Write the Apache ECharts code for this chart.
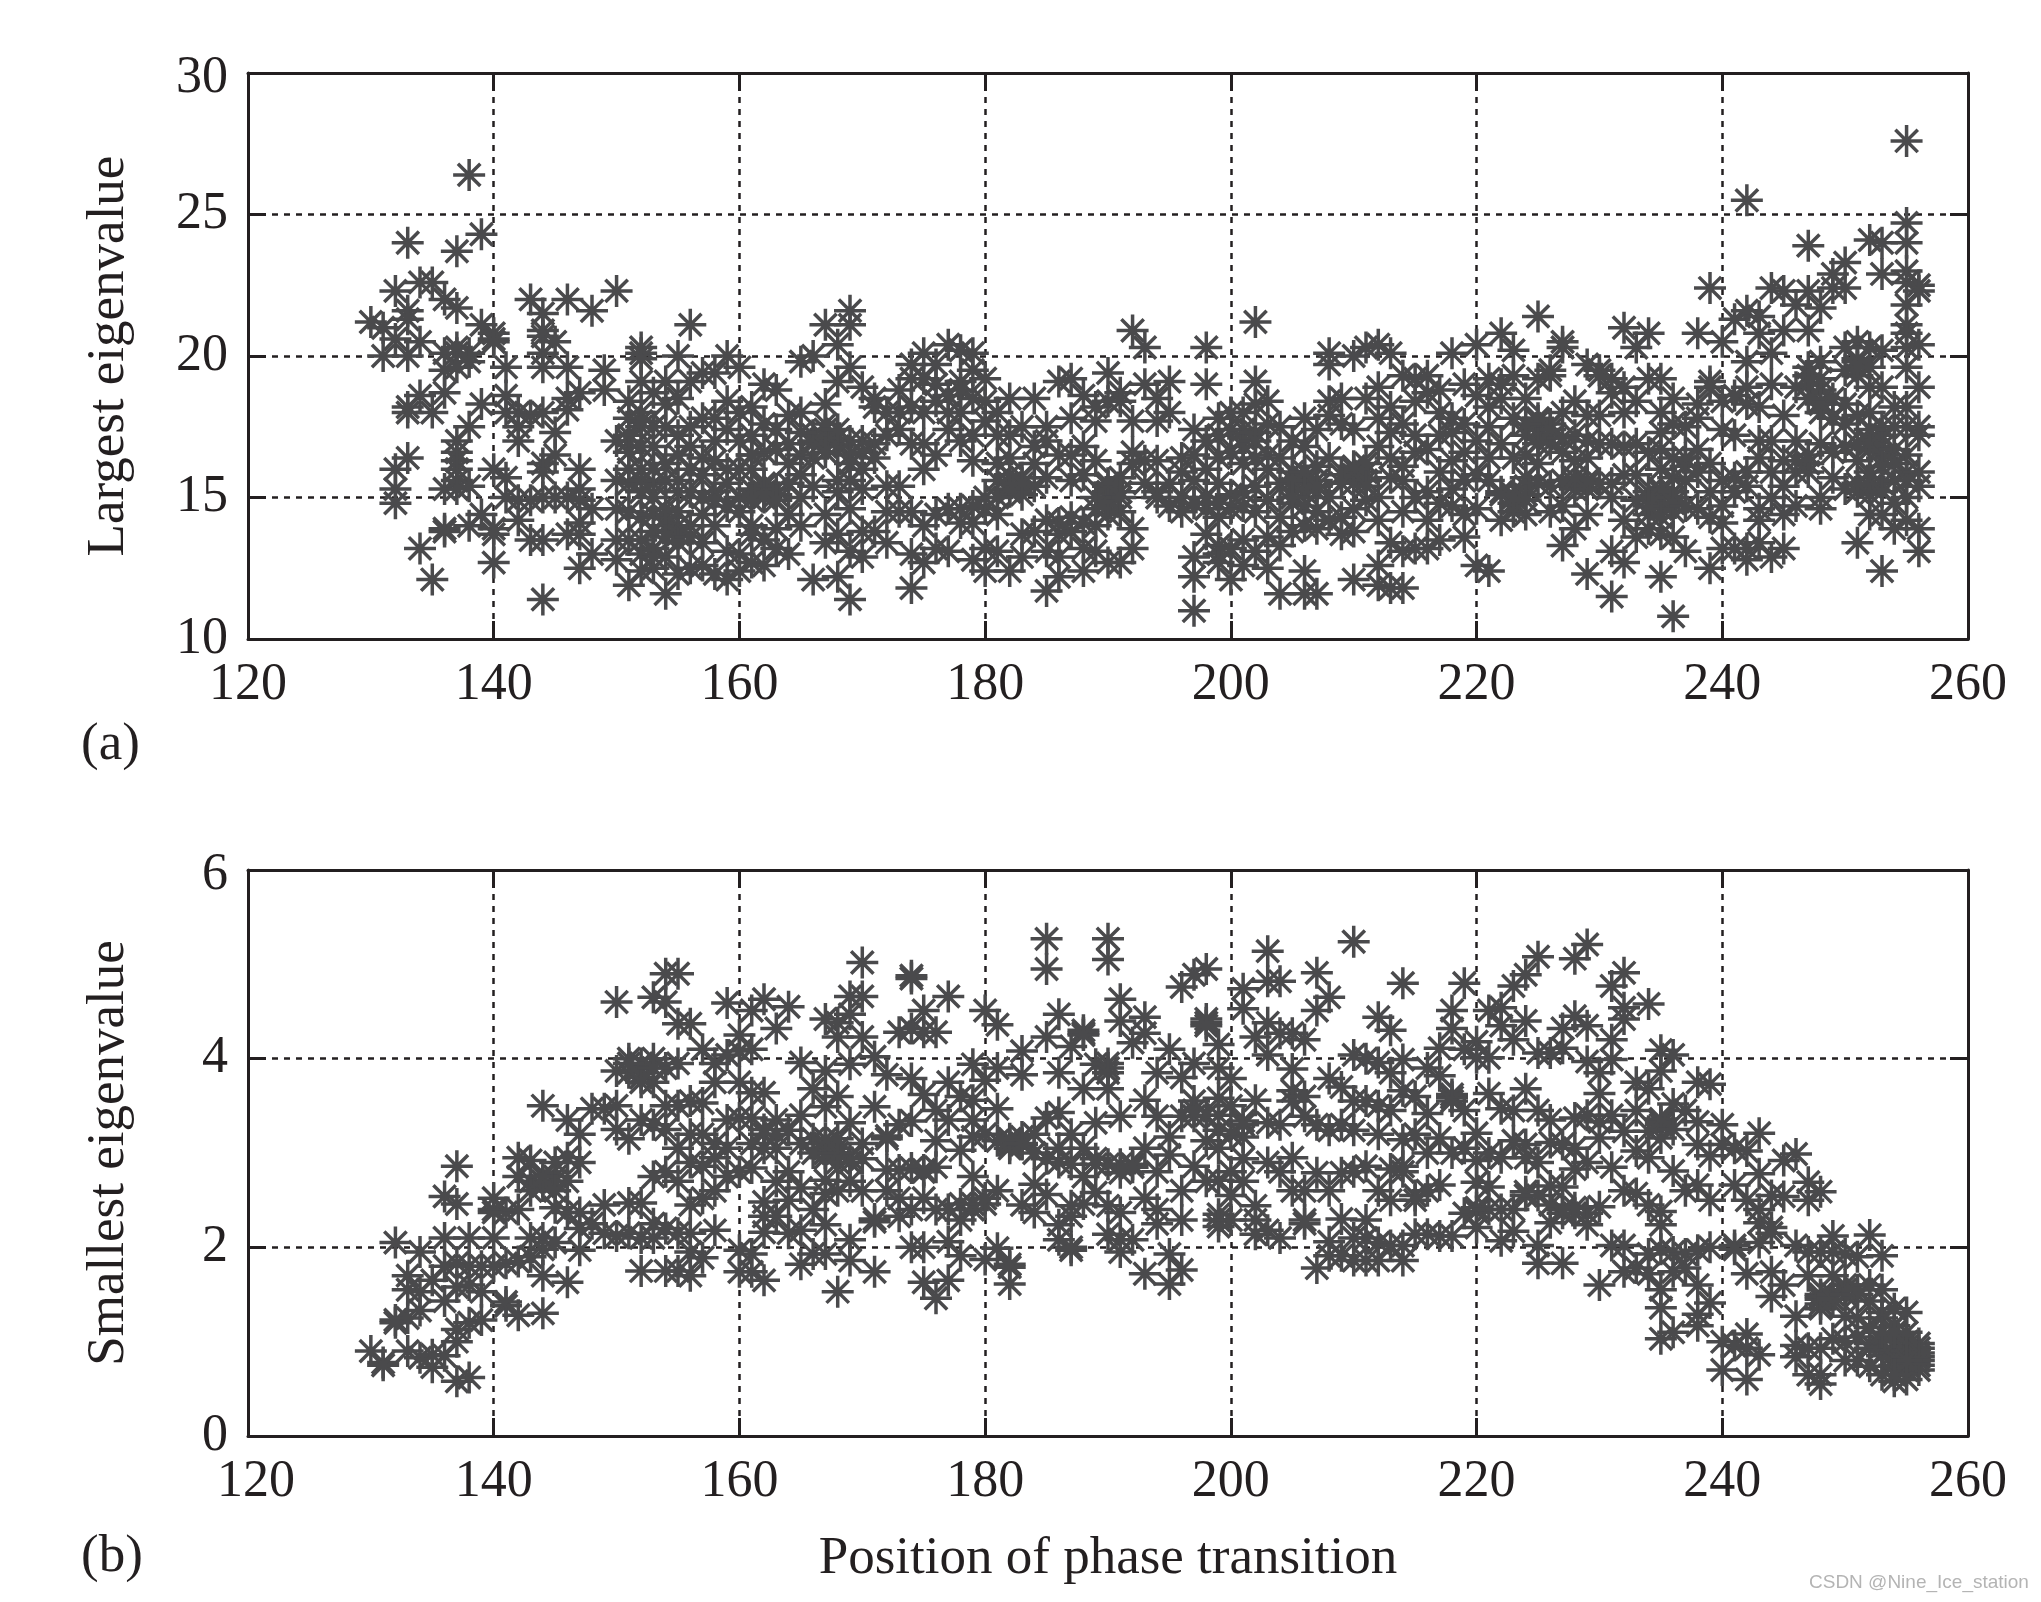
<!DOCTYPE html>
<html><head><meta charset="utf-8">
<style>html,body{margin:0;padding:0;background:#fff}#c{width:2041px;height:1602px}</style>
<script src="https://cdn.jsdelivr.net/npm/echarts@6/dist/echarts.min.js"></script></head>
<body><div id="c"></div><script>
const largestA=[[130,21.2],[131,21],[131,20],[132,22.3],[132,20.6],[133,24],[133,21.6],[133,21.3],[133,20],[134,22.6],[135,22.6],[134,20.5],[136,22],[137,21.7],[137,23.7],[139,24.3],[138,26.4],[139,21.1],[140,20.6],[140,20.8],[140,20.5],[136,20.1],[137,20.1],[138,20.1],[137,20.3],[136,19.5],[137,19.6],[138,19.8],[134,18.6],[133,18],[133,18.2],[135,18],[136,18.7],[132,16],[133,16.4],[132,15.3],[132,14.8],[136,15.3],[137,16.6],[137,16.3],[137,16],[137,15.6],[137,15.3],[138,15.4],[134,13.2],[135,12.1],[136,13.9],[136,13.8],[138,14],[139,14.4],[140,13.9],[140,13.7],[140,12.7],[138,17.5],[137,17],[139,18.3],[140,16],[141,19.6],[141,18.6],[141,18],[142,18],[142,17.5],[142,17],[143,17.9],[144,18],[145,17.3],[143,22],[144,21.5],[144,20.7],[144,20.9],[145,20.5],[144,20.1],[144,19.6],[146,19.6],[146,22],[148,21.6],[150,22.3],[147,18.7],[146,18.1],[146,18.5],[149,19.5],[149,18.8],[144,16.2],[145,16.5],[144,15.9],[147,16],[147,15.3],[141,15.7],[141,15],[142,14.9],[143,14.9],[144,15],[145,15],[146,15],[147,14.9],[148,14.6],[142,14.2],[143,13.5],[144,13.5],[146,13.7],[147,13.7],[147,14.1],[148,13],[147,12.5],[144,11.4],[150,15.6],[150,17],[151,17.8],[151,17],[151,16],[151,15.5],[151,14.5],[151,13.5],[151,11.9],[152,20.3],[152,20.1],[152,19.9],[152,19.1],[153,18.7],[154,18.3],[155,20],[154,19.1],[156,19.1],[156,21.1],[154,17.5],[153,16.8],[153,15.5],[152,14.3],[152,13],[153,12.5],[154,11.6],[154,12.9],[156,12.5],[154,14],[155,14],[154,14.3],[155,13.7],[155,14.5],[156,14],[156,15.2],[157,15],[157,17.8],[157,19.4],[158,19.4],[159,20],[158,17.8],[158,17],[157,16.4],[158,15.2],[159,14.7],[157,13.4],[158,14],[159,12.1],[159,13.1],[152,18],[152,17.5],[152,16.8],[152,16],[152,15.2],[153,14.4],[153,13.8],[155,15.2],[155,16.5],[155,17.2],[155,18.5],[156,16],[156,17.5],[157,12.6],[158,12.3],[153,17.5],[154,15.6],[154,16.2],[151,18.4],[152,12.4],[153,13.2],[155,12.3],[150,13.5],[150,12.8],[150,14.6]];
const largestB=[[160,19.6],[160,18],[160,17],[160,16],[160,15],[160,14.5],[160,13],[161,16.5],[161,16],[161,14],[161,13.7],[161,17.2],[161,18.2],[161,12.7],[162,19],[162,17.6],[162,16.6],[162,15.5],[162,15.2],[162,15],[162,12.6],[162,13.5],[163,18.8],[163,16.7],[163,15.1],[163,13.9],[163,13.2],[164,13],[164,16.2],[164,15.5],[164,17.9],[165,18],[165,19.8],[165,15.8],[165,16.5],[165,14],[165,15],[166,20],[166,17],[166,16.4],[166,12.1],[166,15.4],[167,21.1],[167,18.3],[167,17.4],[167,17.1],[167,16.8],[167,14.4],[167,13.4],[168,20.4],[168,19.1],[168,17.1],[168,16.8],[168,15.6],[168,15.2],[168,12.2],[168,13.7],[169,21.6],[169,21.1],[169,19.6],[169,17],[169,16.5],[169,16.2],[169,15.6],[169,14.6],[169,13.1],[169,11.4],[170,18.9],[170,17],[170,16.6],[170,12.9],[170,15.3],[170,13.8],[171,18.5],[171,16.9],[171,13.8],[171,18.2],[172,17.2],[172,15.4],[172,14.5],[172,13.4],[173,18.8],[173,15.4],[173,14.5],[173,18],[174,19.7],[174,19.2],[174,14.5],[174,13],[174,11.8],[174,16.9],[174,18.2],[175,20.1],[175,16],[175,16.9],[175,18],[175,19.2],[175,12.7],[175,14],[176,19],[176,18.4],[176,14.4],[176,13.2],[176,19.7],[177,20.4],[177,18.6],[177,17.4],[177,14.6],[177,13.1],[178,19.1],[178,18],[178,20.2],[178,17],[178,14.6],[178,14.1],[179,20.1],[179,18.5],[179,16.3],[179,14.1],[179,14.7],[179,12.8],[179,17.2],[180,19.2],[180,17.7],[180,14.6],[180,13.2],[180,15],[180,18.4],[180,12.4]];
const largestC=[[181,14.4],[181,15.6],[181,16.2],[181,18],[181,13.1],[182,18.5],[182,15.5],[182,15.8],[182,15.2],[182,12.4],[182,17.2],[182,16.4],[183,12.9],[183,15.7],[183,15.1],[183,13.7],[184,18.5],[184,16.2],[184,16.8],[184,13.8],[184,15.4],[185,17.5],[185,11.7],[185,14.2],[185,13.1],[185,17],[186,19.1],[186,16.5],[186,14.1],[186,12.9],[186,12.2],[186,13.7],[187,19.2],[187,17.8],[187,16.5],[187,15.6],[187,13.8],[187,14.3],[188,18.6],[188,16.8],[188,13.2],[188,12.4],[188,14.1],[189,17.7],[189,18.2],[189,14],[189,13.1],[190,19.4],[190,15.4],[190,15],[190,14.7],[190,15.2],[190,12.7],[190,14.4],[190,18.4],[191,18.7],[191,15.7],[191,15.2],[191,12.7],[191,14.5],[191,18.4],[192,20.9],[192,17.7],[192,16.6],[192,16.2],[192,13.9],[192,13.2],[193,20.3],[193,19],[193,16.3],[193,15.5],[194,18.5],[194,17.7],[194,16.3],[194,15.2],[195,19.1],[195,18],[195,15.5],[195,14.7],[196,16.4],[196,15],[196,14.5],[197,17.4],[197,16.5],[197,15.6],[197,14.8],[197,12.9],[197,12.2],[197,11],[198,20.3],[198,19],[198,17],[198,16],[198,14.6],[198,13.7],[199,13],[199,13.3],[199,12.7],[199,17.2],[199,16.4],[199,15.5],[199,14.3],[199,17.8],[200,18],[200,16.6],[200,15.1],[200,14.6],[200,12.1],[200,13.2],[200,17.4],[201,17.1],[201,17.4],[201,16.8],[201,16.2],[201,15.2],[201,14.7],[201,12.6],[201,13.5],[202,21.2],[202,19.1],[202,18.3],[202,17.3],[202,17],[202,15.4],[202,14.5],[202,13.1],[203,18.4],[203,16.5],[203,14.9],[203,13.6],[203,12.5],[203,17.6],[204,11.6],[204,15.5],[204,14.3],[204,13.3],[205,15.9],[205,15.3],[205,14.8],[205,13.8],[205,17],[206,17.8],[206,16.8],[206,15.7],[206,15.5],[206,15.2],[206,14.7],[206,12.4],[206,11.6],[207,17.4],[207,15.6],[207,15.2],[207,11.6],[207,13.9],[207,16.1],[208,20.1],[208,19.7],[208,18.4],[208,17.9],[208,15],[208,14.2],[209,17.6],[209,14.3],[209,13.7],[209,15.8],[210,20],[210,17.4],[210,15.8],[210,16.1],[210,15.5],[210,14.6],[210,12.1],[210,13.8],[211,20.3],[211,18.5],[211,15.9],[211,15.6],[211,16.2],[211,14.9],[212,20.4],[212,18.9],[212,17.8],[212,16.8],[212,15],[212,14.2],[212,12.6],[212,11.9]];
const largestD=[[213,20.1],[213,18.2],[213,17.3],[213,15.7],[213,11.8],[213,13.4],[214,19.3],[214,17.6],[214,14.5],[214,11.8],[214,13.1],[214,16.1],[215,13.2],[215,18.4],[215,16.6],[215,15],[216,19.3],[216,18.7],[216,16.7],[216,15.2],[216,13.2],[216,14.2],[217,18],[217,15.9],[217,13.5],[217,14.8],[218,20.1],[218,17.8],[218,17.3],[218,16.3],[218,14.7],[218,15.3],[219,19],[219,16.6],[219,13.6],[219,17.6],[219,14.4],[220,20.4],[220,18.6],[220,17],[220,14.6],[220,12.6],[220,15.8],[221,19.2],[221,15.6],[221,12.4],[221,17.5],[222,20.8],[222,18.5],[222,16.9],[222,14.2],[222,15.2],[223,20.2],[223,19.3],[223,14.8],[223,15.1],[223,14.5],[223,17.8],[223,16.4],[224,18.5],[224,15.4],[224,15.7],[224,15.1],[224,14.4],[224,16.5],[225,21.4],[225,17.7],[225,17.4],[225,17.2],[225,19.2],[225,15.5],[225,16.2],[226,19.3],[226,19.5],[226,17.6],[226,16.9],[226,17.1],[226,14.5],[226,15.4],[227,20.3],[227,20.5],[227,16.6],[227,15.6],[227,14.7],[227,13.3],[227,18],[228,18.4],[228,15.5],[228,15.3],[228,13.9],[228,17.2],[228,16.3],[229,19.7],[229,17.9],[229,17],[229,15.5],[229,15.3],[229,14.4],[229,12.3],[229,16.4],[230,19.5],[230,19.3],[230,16.9],[231,19.2],[231,16.9],[231,13.1],[231,11.5],[231,18.7],[232,21],[232,18.9],[232,18],[232,16.8],[232,14.2],[232,12.7],[233,20.3],[233,16.9],[233,14.9],[233,13.6],[233,15.8],[234,20.8],[234,19.2],[234,16.6],[234,15.2],[234,14.4],[234,13.9],[235,19.2],[235,18],[235,17.3],[235,16.7],[235,15.2],[235,15],[235,14.8],[235,14.6],[235,13.7],[235,12.2],[235,16],[236,18.5],[236,17.6],[236,15.7],[236,15],[236,14.5],[236,10.8],[236,16.4],[237,16.4],[237,16.1],[237,15.6],[237,13.1],[237,17.5],[238,20.8],[238,18.3],[238,17.8],[238,15.9],[238,14.6],[238,16.7],[239,22.4],[239,19.1],[239,18.9],[239,12.5],[239,15.2],[240,20.5],[240,18.4],[240,17.4],[240,14.7],[240,14.1],[240,13.2],[240,15.6]];
const largestE=[[241,21.3],[241,15.7],[241,13.2],[241,15.2],[242,25.5],[242,21.6],[242,19.8],[242,18.9],[242,18.3],[242,15.9],[242,15.4],[242,13.2],[242,12.8],[243,21.4],[243,20.8],[243,17],[243,16.4],[243,14.6],[243,14.2],[243,13.4],[244,22.4],[244,20.1],[244,19],[244,17],[244,15.9],[244,12.9],[245,22.3],[245,20.9],[245,16.3],[245,15.4],[245,14.4],[245,13.2],[246,21.8],[246,18.9],[246,17],[246,14.7],[247,23.9],[247,22.3],[247,20.9],[247,19.6],[247,19.3],[247,16.2],[247,15.9],[247,16.5],[248,21.7],[248,19.8],[248,18.8],[248,18.4],[248,18],[248,16.9],[248,15],[248,14.6],[249,22.9],[249,22.4],[249,17.8],[249,15.7],[249,16.6],[249,18.5],[250,23.3],[250,22.4],[250,20.3],[250,18.3],[250,16.8],[250,17.6],[250,15.3],[251,20.5],[251,19.6],[251,19.3],[251,19.9],[251,17.9],[251,15.2],[251,13.4],[251,16.3],[252,24.1],[252,20.3],[252,18.9],[252,17],[252,16.7],[252,15.4],[252,15.7],[252,15.1],[252,14.4],[252,18],[253,24],[253,22.9],[253,20.2],[253,18.9],[253,17.2],[253,16.8],[253,16.4],[253,15.5],[253,14.4],[253,12.4],[254,18.2],[254,17.5],[254,16.7],[254,16.2],[254,15.6],[254,13.9],[254,14.8],[255,27.6],[255,24.7],[255,24],[255,23],[255,22.6],[255,21.8],[255,21.1],[255,20.8],[255,20.3],[255,19.6],[255,18.2],[255,17.5],[255,16.5],[255,15.9],[255,15.6],[255,14.2],[255,15],[256,22.5],[256,22.3],[256,20.4],[256,18.9],[256,17.5],[256,17.2],[256,15.9],[256,15.4],[256,13.9],[256,13.1]];
const largestDense=[[161,16.5],[162,15.4],[162,15.1],[161,15.3],[163,15.3],[161,14.9],[163,14.9],[166,17.2],[167,17.6],[168,17.4],[166,16.9],[167,16.6],[205,15.6],[206,15.9],[207,15.4],[205,15],[210,16],[211,15.4],[209,15.5],[190,14.9],[190,15.5],[191,15],[189,15],[189,14.6],[182,15.3],[183,15.5],[181,15],[225,17.8],[224,17.2],[226,17.4],[225,16.9],[227,17.1],[224,17.6],[223,15],[222,15.1],[224,14.9],[235,15.3],[234,15],[236,15.2],[234,14.7],[236,14.8],[235,14.3],[252,16.9],[253,17.5],[252,17.4],[251,16.9],[253,16.1],[252,15.9],[251,15.5],[253,15.2],[247,19],[248,19.2],[248,18.3],[247,18.5],[251,19.8],[250,19.5],[252,19.6],[229,15.6],[228,15.7],[230,15.5],[231,15.5],[154,13.6],[155,13.4],[156,13.6],[154,14.6],[153,12.9],[152,13.5],[152,17.7],[151,17.2],[151,16.6],[152,15.6],[153,16],[153,15],[155,15.6],[156,16.8],[157,14.4],[157,15.8],[158,14.9],[158,16.3],[159,16],[159,15.5],[159,17.4],[159,18.4],[160,12.4],[163,17.4],[164,16.9],[164,14.4],[165,17.3],[170,16],[171,16.4],[172,18],[173,17.4],[176,16.5],[177,18],[178,18.8],[179,19.5],[181,17.2],[183,17.5],[185,15.7],[188,15.8],[189,16.3],[194,15],[196,15.9],[198,15],[199,14.8],[201,18],[202,16.4],[203,16],[204,17.5],[204,16.4],[206,14],[207,14.5],[208,16.4],[209,18.5],[213,16.4],[214,15.6],[215,17.2],[215,19.2],[217,17.2],[217,18.8],[219,15.6],[221,16.4],[221,18.2],[222,19],[230,17.9],[231,15],[232,15.8],[233,18.4],[236,13.6],[237,14.7],[239,16.2],[239,14.3],[241,17.2],[241,18.6],[243,18.2],[244,15],[245,17.9],[246,15.9],[246,16.3]];
const smallestA=[[130,0.9],[131,0.78],[131,0.75],[132,2.05],[132,1.23],[132,1.2],[133,1.25],[133,1.7],[133,1.55],[134,1.95],[134,1.53],[134,1.33],[133,0.9],[134,0.83],[135,0.73],[135,0.86],[136,0.85],[137,0.58],[138,0.62],[137,1],[137,1.13],[138,1.2],[139,1.23],[136,1.43],[135,1.65],[136,1.8],[136,2.1],[137,1.83],[137,1.58],[138,1.8],[138,1.6],[139,1.53],[138,2.1],[139,1.8],[140,2.1],[140,1.8],[136,2.54],[137,2.46],[137,2.86],[140,2.52],[140,2.4],[140,2.37],[141,2.37],[141,1.83],[141,1.38],[141,1.42],[142,1.28],[144,1.3],[142,1.85],[143,1.9],[144,1.7],[146,1.63],[144,1.98],[143,2.1],[144,2.1],[145,2.05],[142,2.4],[142,2.95],[142,2.75],[143,2.92],[143,2.7],[144,2.7],[144,2.65],[145,2.75],[144,3.5],[145,2.9],[145,2.7],[146,2.95],[146,3.35],[147,3.2],[147,2.9],[146,2.7],[145,2.42],[146,2.37],[147,2.37],[147,2.2],[147,1.97],[148,3.47],[149,3.47],[150,4.6],[150,3.87],[150,3.25],[151,4],[151,3.15],[151,3.85],[152,3.35],[152,3.85],[152,1.75],[153,4.65],[154,4.6],[154,4.9],[155,4.9],[155,4.37],[156,4.37],[153,4],[154,3.9],[153,3.75],[155,3.5],[154,3.5],[153,3.3],[154,3.25],[155,3.05],[153,2.75],[154,2.8],[149,2.45],[151,2.47],[152,2.47],[151,2.15],[150,2.12],[152,2.1],[154,2.2],[155,2.15],[156,2.15],[155,1.75],[156,1.7],[154,1.75],[153,2.25],[156,2.45],[156,2.9],[148,2.25],[149,2.15],[152,3.95],[156,3.55],[157,4.1],[157,3.53],[157,3.2],[157,2.86],[157,2.52],[157,1.89],[158,2.6],[158,2.18],[158,3.1],[159,4.59],[159,4.04],[159,3.05],[159,2.75],[153,2.1],[155,2.7],[155,3.95],[156,3.2],[156,1.95]];
const smallestB=[[160,4.25],[160,4.08],[160,3.37],[160,1.97],[160,1.74],[160,2.8],[161,4.51],[161,4.1],[161,3.64],[161,3.37],[161,2.84],[161,1.93],[161,1.74],[162,4.63],[162,3.64],[162,3.2],[162,3.05],[162,2.48],[162,2.33],[162,2.16],[162,1.65],[163,4.32],[163,3.35],[163,3.05],[163,2.33],[164,4.55],[164,3.24],[164,2.5],[165,3.96],[165,2.63],[165,2.18],[165,1.82],[165,3.1],[166,3.68],[166,3.15],[166,1.93],[166,2.4],[167,4.42],[167,3.87],[167,3.49],[167,3.1],[167,3.05],[167,3],[167,2.95],[167,2.71],[167,2.57],[167,2.24],[167,1.93],[168,4.38],[168,4.23],[168,3.6],[168,3.05],[168,2.6],[168,1.53],[168,2.9],[169,4.47],[169,4.66],[169,3.94],[169,3.32],[169,2.95],[169,2.9],[169,2.08],[169,1.86],[169,2.7],[170,5.02],[170,4.66],[170,4.23],[170,2.94],[170,2.6],[170,3.1],[171,4.02],[171,3.49],[171,2.27],[171,2.3],[171,1.74],[172,3.83],[172,3.18],[172,3.15],[172,2.82],[173,4.28],[173,2.82],[173,2.52],[173,2.33],[173,3.3],[174,4.85],[174,4.88],[174,4.32],[174,3.79],[174,3.34],[174,2.84],[175,4.51],[175,4.28],[175,3.62],[175,2.82],[175,2.8],[175,2.52],[175,2],[175,1.63],[176,4.28],[176,3.13],[176,2.4],[176,1.46],[177,4.66],[177,3.75],[177,3.35],[177,2.4],[177,2.06],[177,1.65],[178,3.03],[178,2.46],[178,2.29],[178,1.91],[179,3.94],[179,3.56],[179,3.35],[179,3.17],[179,2.75],[179,2.46],[179,2.4],[180,4.51],[180,3.77],[180,2.46],[180,1.87],[180,2.52]];
const smallestC=[[181,4.36],[181,3.9],[181,3.47],[181,2.6],[181,1.99],[182,3.09],[182,3.13],[182,3.05],[182,1.82],[182,1.79],[182,1.61],[183,4.08],[183,3.83],[183,3.17],[183,3.09],[184,3.2],[184,2.67],[184,2.37],[185,5.27],[185,4.95],[185,4.23],[185,3.37],[185,2.94],[185,2.56],[186,4.47],[186,3.43],[186,3.05],[186,2.9],[186,2.24],[186,2.08],[187,4.13],[187,2.88],[187,2.44],[187,2.33],[187,1.97],[187,2],[188,4.27],[188,4.3],[188,4.25],[188,3.68],[188,3.05],[188,2.46],[189,3.94],[189,3.32],[189,2.94],[189,2.58],[189,2.88],[190,5.27],[190,5.05],[190,3.95],[190,3.9],[190,3.85],[190,3.68],[190,2.88],[190,2.44],[190,2.14],[191,4.63],[191,4.4],[191,3.39],[191,2.88],[191,2.79],[191,2.37],[191,2.08],[191,1.95],[192,4.17],[192,2.88],[192,2.85],[192,2.08],[193,4.44],[193,4.27],[193,3.56],[193,2.52],[193,1.72],[194,3.85],[194,3.39],[194,2.4],[194,2.25],[195,4.1],[195,3.17],[195,2.98],[195,1.93],[195,1.61],[196,4.76],[196,3.39],[196,2.6],[196,2.29],[196,1.76],[197,4.89],[197,3.55],[197,3.39],[197,3.45],[197,2.86],[198,4.95],[198,4.38],[198,4.42],[198,4.35],[198,3.13],[198,3.4],[199,4.15],[199,3.9],[199,3.58],[199,3.24],[199,2.71],[199,2.29],[199,2.35],[199,2.22],[200,3.79],[200,3.2],[200,2.29],[200,2.8],[201,4.74],[201,4.53],[201,3.34],[201,3.17],[201,2.94],[201,2.7],[202,4.23],[202,3.56],[202,2.44],[202,2.29],[202,2.14],[203,5.14],[203,4.82],[203,4.38],[203,4.04],[203,3.32],[203,2.9],[203,2.18],[204,4.82],[204,4.27],[204,2.1],[204,3.3],[205,4.27],[205,3.89],[205,3.66],[205,3.55],[205,2.95],[206,3.39],[206,2.6],[206,2.29],[206,2.25],[206,3.6],[207,4.91],[207,4.51],[207,2.79],[207,1.78],[208,4.65],[208,3.79],[208,3.24],[208,2.6],[208,2.06],[208,1.91],[209,3.7],[209,2.79],[209,1.91],[210,5.24],[210,4.04],[210,3.55],[210,3.24],[210,2.1],[210,1.86],[210,2.8],[211,3.55],[211,2.86],[211,2.29],[211,2.1],[211,1.86],[212,4.44],[212,3.96],[212,3.2],[212,2.6],[212,1.86],[212,2.05]];
const smallestD=[[213,4.3],[213,3.85],[213,3.45],[213,2.83],[213,2.02],[214,4.8],[214,3.99],[214,3.66],[214,3.14],[214,2.86],[214,2.8],[214,2.02],[214,1.86],[215,2.55],[215,2.5],[215,2.14],[215,3.2],[216,3.42],[216,2.6],[216,2.14],[216,3.9],[217,4.11],[217,3.82],[217,3.16],[217,2.66],[217,2.12],[218,4.51],[218,4.32],[218,3.59],[218,3.62],[218,3.55],[218,3],[218,2.12],[219,4.8],[219,2.36],[219,3.05],[220,4.18],[220,4.01],[220,3.21],[220,2.92],[220,2.69],[220,2.38],[220,2.42],[220,2.21],[221,4.51],[221,4.01],[221,3.63],[221,2.64],[221,2.4],[222,4.54],[222,4.35],[222,3.47],[222,2.95],[222,2.4],[222,2.07],[223,4.77],[223,4.2],[223,3.13],[223,2.4],[223,2.17],[224,4.89],[224,4.4],[224,3.68],[224,3.09],[224,2.95],[224,2.59],[224,2.55],[225,5.08],[225,4.06],[225,3.45],[225,2.55],[225,2.02],[225,1.83],[226,4.06],[226,3.35],[226,3.11],[226,2.26],[226,2.45],[227,4.32],[227,4.11],[227,3.09],[227,2.64],[227,2.4],[227,2.36],[227,1.83],[228,5.06],[228,4.45],[228,3.37],[228,2.83],[228,2.36],[228,2.42],[229,5.21],[229,4.35],[229,3.97],[229,3.4],[229,2.9],[229,2.36],[229,2.24],[230,3.85],[230,3.63],[230,3.33],[230,3.16],[230,2.43],[230,1.6],[231,4.77],[231,4.2],[231,3.99],[231,2.85],[231,2.02],[232,4.91],[232,4.54],[232,4.42],[232,3.23],[232,2.02],[232,1.74],[233,3.75],[233,3.02],[233,2.57],[233,1.78],[234,4.58],[234,3.68],[234,3.23],[234,2.95],[234,2.45],[234,1.93],[234,1.72],[235,4.09],[235,3.87],[235,3.33],[235,3.3],[235,3.36],[235,3.16],[235,2.38],[235,2.24],[235,1.98],[235,1.55],[235,1.36],[235,1.03],[236,4.04],[236,3.52],[236,2.81],[236,1.95],[236,1.74],[236,1.1],[237,3.45],[237,1.93],[237,1.78],[238,3.75],[238,3.33],[238,3.09],[238,2.66],[238,1.97],[238,1.6],[238,1.29],[238,1.17],[239,3.73],[239,2.97],[239,1.41],[240,3.3],[240,3.09],[240,1],[240,0.7]];
const smallestE=[[241,2.66],[241,2.02],[241,1.98],[241,0.96],[242,3.02],[242,2.5],[242,1.72],[242,1.08],[242,0.93],[242,0.6],[243,3.21],[243,2.78],[243,2.4],[243,2.26],[243,0.86],[244,2.21],[244,2.15],[244,1.74],[244,1.48],[245,2.92],[245,2.54],[246,2.99],[246,2.02],[246,1.27],[246,0.96],[246,0.84],[247,2.69],[247,2.5],[247,1.7],[247,0.93],[247,0.65],[248,2.59],[248,1.95],[248,1.5],[248,1.45],[248,1.4],[248,1.35],[248,1.48],[248,0.93],[248,0.65],[248,0.55],[249,2.12],[249,1.95],[249,1.5],[249,1.03],[249,1.45],[250,1.93],[250,1.55],[250,1.6],[250,1.5],[250,1.27],[250,0.8],[251,1.5],[251,1.55],[251,0.8],[252,2.13],[252,1.43],[252,0.93],[252,0.98],[252,0.74],[253,1.91],[253,1.55],[253,1.31],[253,0.95],[253,1],[253,0.85],[253,0.65],[254,1.17],[254,1],[254,0.95],[254,0.88],[254,0.82],[254,0.75],[254,0.58],[255,1.31],[255,1],[255,0.95],[255,0.9],[255,0.84],[255,0.75],[255,0.7],[255,0.6],[256,0.98],[256,0.93],[256,0.88],[256,0.84],[256,0.75],[256,0.7]];
const smallestDense=[[143,2.6],[144,2.75],[145,2.6],[152,3.8],[151,3.95],[152,3.75],[153,3.9],[150,3.5],[162,3.25],[161,3.1],[163,3.2],[167,3.15],[166,3],[168,3],[168,3.15],[181,3.13],[182,3.15],[183,3.1],[199,3.4],[200,3.5],[199,3.05],[200,2.55],[201,3.3],[205,2.6],[204,2.8],[160,3.75],[158,3.75],[158,3.95],[159,3.35],[158,2.95],[164,2.8],[164,2.15],[163,2.7],[165,3.4],[172,2.6],[174,2.4],[174,2],[176,2.85],[176,3.45],[178,3.6],[180,3.2],[183,2.45],[184,3],[186,3.85],[187,3.2],[188,2.75],[193,3.05],[194,2.8],[196,3.8],[197,3.95],[198,2.7],[206,4.2],[207,3.3],[209,3.3],[209,2.3],[211,4],[212,3.5],[213,2.5],[215,3.6],[216,3],[219,3.45],[219,4.1],[221,3],[223,3.45],[225,2.9],[226,2.65],[228,3.05],[231,3.4],[232,2.6],[233,3.45],[236,3.25],[237,2.6],[239,2.5],[239,2],[241,3.05],[243,2.05],[244,2.55],[245,1.6],[247,1.95],[249,1.7],[251,1.9],[251,1.25],[252,1.6],[253,1.25],[254,1.35],[250,1],[251,1.05],[252,1.15],[253,1.1],[255,1.1],[254,1.1],[256,0.8],[255,0.8],[254,0.65]];

const largestAll=[...largestA,...largestB,...largestC,...largestD,...largestE,...largestDense];
const smallestAll=[...smallestA,...smallestB,...smallestC,...smallestD,...smallestE,...smallestDense];
const ink='#231f20', mark='#4a4a4c', serif='"Liberation Serif"';
const star='path://M0 -10L0 10M-10 0L10 0M-7 -7L7 7M-7 7L7 -7';
const chart=echarts.init(document.getElementById('c'),null,{renderer:'canvas'});
const grids=[{left:248,top:73,width:1720,height:566},{left:248,top:870,width:1720,height:566}];
const labelFont={fontFamily:serif,fontSize:52,color:ink};
function xAxes(i,labeled){return [
 {gridIndex:i,type:'value',position:'bottom',min:120,max:260,interval:20,
  axisLine:{onZero:false,lineStyle:{color:ink,width:3}},axisTick:{inside:true,length:18,lineStyle:{color:ink,width:3}},
  axisLabel:{...labelFont,margin:20,hideOverlap:false,
    formatter:v=>(labeled&&v===120)?'{p|120}':String(v),rich:{p:{...labelFont,padding:[0,0,0,16]}}},
  splitLine:{show:true,lineStyle:{color:ink,width:2.5,type:[6,6]}},
  name:labeled?'Position of phase transition':'',nameLocation:'middle',nameGap:97,nameTextStyle:{fontFamily:serif,fontSize:53,color:ink}},
 {gridIndex:i,type:'value',position:'top',min:120,max:260,interval:20,
  axisLine:{onZero:false,lineStyle:{color:ink,width:3}},axisTick:{inside:true,length:18,lineStyle:{color:ink,width:3}},
  axisLabel:{show:false},splitLine:{show:false}}];}
function yAxes(i,min,max,interval,name){return [
 {gridIndex:i,type:'value',position:'left',min,max,interval,
  axisLine:{onZero:false,lineStyle:{color:ink,width:3}},axisTick:{inside:true,length:18,lineStyle:{color:ink,width:3}},
  axisLabel:{...labelFont,margin:20,formatter:v=>v===max?'{t|'+v+'}':String(v),rich:{t:{...labelFont,padding:[10,0,0,0]}}},
  splitLine:{show:true,lineStyle:{color:ink,width:2.5,type:[6,6]}},
  name,nameLocation:'middle',nameRotate:90,nameGap:112,nameTextStyle:{fontFamily:serif,fontSize:53,color:ink}},
 {gridIndex:i,type:'value',position:'right',min,max,interval,
  axisLine:{onZero:false,lineStyle:{color:ink,width:3}},axisTick:{inside:true,length:18,lineStyle:{color:ink,width:3}},
  axisLabel:{show:false},splitLine:{show:false}}];}
const markerSeries=(data,ax,ay)=>({type:'scatter',data,xAxisIndex:ax,yAxisIndex:ay,symbol:star,symbolSize:32,
  itemStyle:{color:'rgba(0,0,0,0)',borderColor:mark,borderWidth:3.5,opacity:1},large:false,silent:true,z:5});
chart.setOption({animation:false,backgroundColor:'#fff',grid:grids,
 xAxis:[...xAxes(0,false),...xAxes(1,true)],
 yAxis:[...yAxes(0,10,30,5,'Largest eigenvalue'),...yAxes(1,0,6,2,'Smallest eigenvalue')],
 series:[markerSeries(largestAll,0,0),markerSeries(smallestAll,2,2)],
 graphic:[
  {type:'text',left:81,top:719,style:{text:'(a)',font:'53px "Liberation Serif"',fill:ink}},
  {type:'text',left:81,top:1531,style:{text:'(b)',font:'53px "Liberation Serif"',fill:ink}},
  {type:'text',left:1809,top:1573,style:{text:'CSDN @Nine_Ice_station',font:'19px "Liberation Sans"',fill:'#b4b4b4'}}
 ]});
</script></body></html>
